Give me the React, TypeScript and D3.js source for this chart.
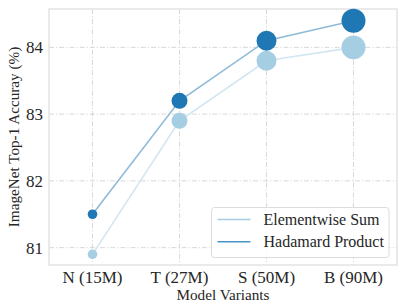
import React from "react";
import * as d3 from "d3";

const categories = ["N (15M)", "T (27M)", "S (50M)", "B (90M)"];
const elementwiseSum = [80.9, 82.9, 83.8, 84.0];
const hadamardProduct = [81.5, 83.2, 84.1, 84.4];
const yTicks = [81, 82, 83, 84];
const seriesNames = ["Elementwise Sum", "Hadamard Product"];

const W = 409;
const H = 307;
const M = { left: 49, right: 397, top: 9, bottom: 265 };
const markerR = [4.8, 8, 10, 12];
const FONT = "Liberation Serif";
const TS = { fontFamily: FONT } as const;

export default function App() {
  const x = d3.scalePoint<string>().domain(categories).range([M.left, M.right]).padding(0.5);
  const y = d3.scaleLinear().domain([80.74, 84.575]).range([M.bottom, M.top]);
  const line = d3
    .line<number>()
    .x((_, i) => x(categories[i]) as number)
    .y((d) => y(d));

  const series = [
    { name: seriesNames[0], data: elementwiseSum, fill: "#a6cee3", stroke: "#d2e6f1", legend: "#a3cde6" },
    { name: seriesNames[1], data: hadamardProduct, fill: "#1f78b4", stroke: "#8fbbd9", legend: "#4b93c6" },
  ];
  const grid = "#d4d4d4";
  const dash = "5,2,1.2,2";

  return (
    <svg
      width={W}
      height={H}
      style={{ position: "absolute", left: 0, top: 0, background: "#fff", fontFamily: FONT }}
    >
      <rect x={0} y={0} width={W} height={H} fill="#fff" />
      {categories.map((c) => (
        <line key={c} x1={x(c)} x2={x(c)} y1={M.top} y2={M.bottom} stroke={grid} strokeWidth={0.9} strokeDasharray={dash} />
      ))}
      {yTicks.map((t) => (
        <line key={t} x1={M.left} x2={M.right} y1={y(t)} y2={y(t)} stroke={grid} strokeWidth={0.9} strokeDasharray={dash} />
      ))}
      <rect
        x={M.left}
        y={M.top}
        width={M.right - M.left}
        height={M.bottom - M.top}
        fill="none"
        stroke="#dcdcdc"
        strokeWidth={1.2}
      />
      {series.map((s) => (
        <g key={s.name}>
          <path d={line(s.data) || ""} fill="none" stroke={s.stroke} strokeWidth={1.6} />
          {s.data.map((v, i) => (
            <circle key={i} cx={x(categories[i])} cy={y(v)} r={markerR[i]} fill={s.fill} />
          ))}
        </g>
      ))}
      {yTicks.map((t) => (
        <text key={t} style={TS} x={43} y={y(t)} dy="0.35em" textAnchor="end" fontSize={17} fill="#262626">
          {t}
        </text>
      ))}
      {categories.map((c) => (
        <text key={c} style={TS} x={x(c)} y={283} textAnchor="middle" fontSize={17} fill="#262626">
          {c}
        </text>
      ))}
      <text style={TS} x={(M.left + M.right) / 2} y={300} textAnchor="middle" fontSize={15.2} fill="#262626">
        Model Variants
      </text>
      <text
        style={TS}
        transform={`translate(19,${(M.top + M.bottom) / 2}) rotate(-90)`}
        textAnchor="middle"
        fontSize={15.2}
        fill="#262626"
      >
        ImageNet Top-1 Accuray (%)
      </text>
      <g>
        <rect x={211.5} y={207.5} width={177.5} height={50} rx={3} fill="#fff" fillOpacity={0.85} stroke="#dcdcdc" strokeWidth={1} />
        {series.map((s, i) => (
          <g key={s.name} transform={`translate(0,${219.5 + i * 22.3})`}>
            <line x1={217.5} x2={250.5} y1={0} y2={0} stroke={s.legend} strokeWidth={1.6} />
            <text style={TS} x={263.5} y={0} dy="0.33em" fontSize={16} fill="#262626">
              {s.name}
            </text>
          </g>
        ))}
      </g>
    </svg>
  );
}
